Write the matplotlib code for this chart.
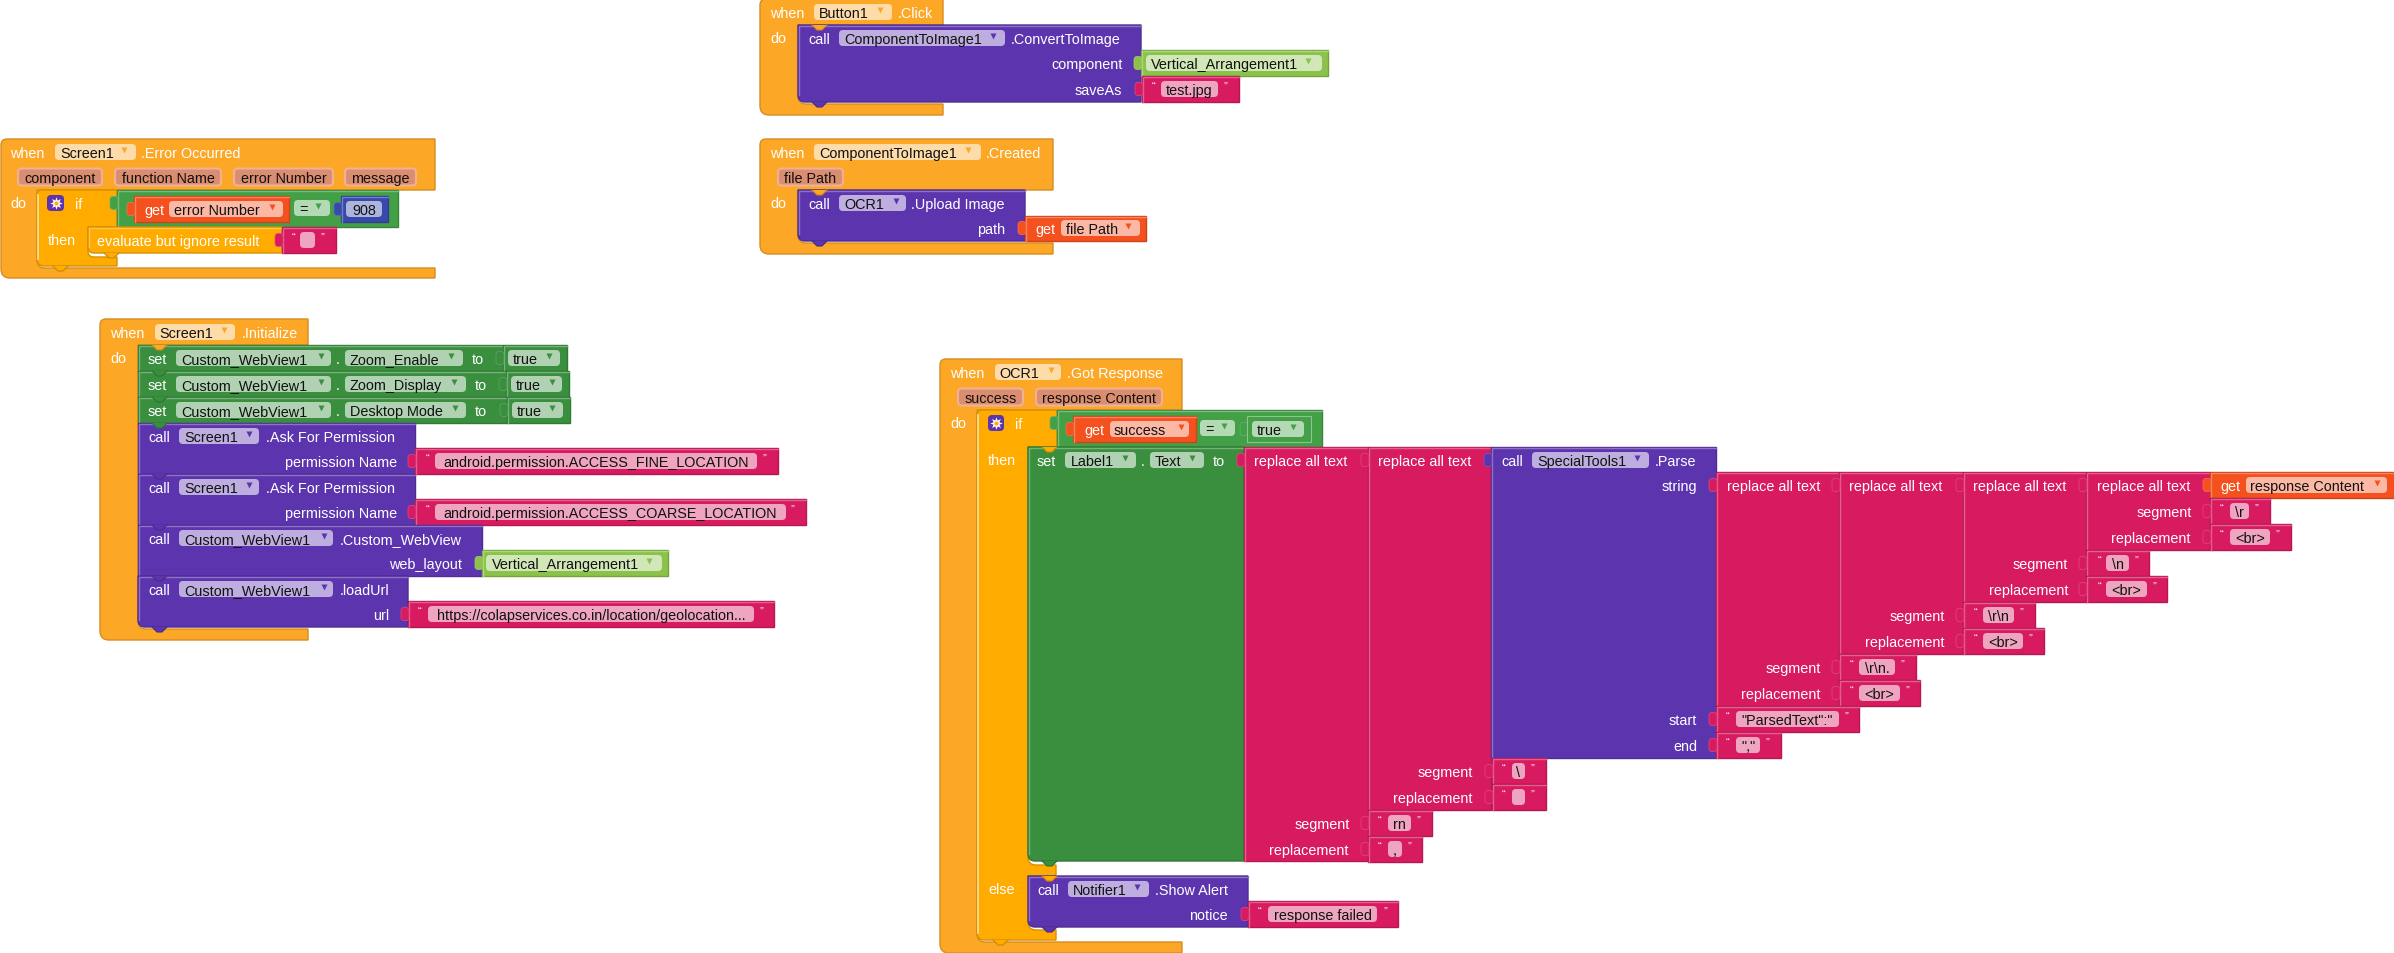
import numpy as np
import matplotlib
matplotlib.use("Agg")
import matplotlib.pyplot as plt
from matplotlib.patches import Rectangle, FancyBboxPatch, PathPatch, Polygon
from matplotlib.path import Path
from matplotlib.colors import to_rgb

# labels of the blocks
EVENT_COMPONENTS = ["Screen1", "Button1", "ComponentToImage1", "Screen1", "OCR1"]
EVENT_NAMES = [".Error Occurred", ".Click", ".Created", ".Initialize", ".Got Response"]
ERROR_ARGS = ["component", "function Name", "error Number", "message"]
CREATED_ARGS = ["file Path"]
RESPONSE_ARGS = ["success", "response Content"]
SET_PROPS = ["Zoom_Enable", "Zoom_Display", "Desktop Mode"]
PERMISSIONS = ["android.permission.ACCESS_FINE_LOCATION", "android.permission.ACCESS_COARSE_LOCATION"]
URL = "https://colapservices.co.in/location/geolocation..."
WEBVIEW = "Custom_WebView1"
ARRANGEMENT = "Vertical_Arrangement1"
REPLACE_LABEL = "replace all text"
SEGMENTS_INNER = ["\\r", "\\n", "\\r\\n", "\\r\\n."]
BR = "<br>"

ORANGE = "#FDA727"
YELLOW = "#FFAB00"
PURPLE = "#5C35AE"
GREEN = "#3A8F3F"
LOGIC = "#43A047"
PINK = "#D81B60"
GET = "#F4511E"
BLUE = "#3949AB"
LIME = "#8BC34A"
FONT = "Liberation Sans"
SIZE = 10.4

fig = plt.figure(figsize=(23.94, 9.54), dpi=100)
ax = fig.add_axes([0, 0, 1, 1])
ax.set_xlim(0, 2394)
ax.set_ylim(954, 0)
ax.axis("off")


def mix(col, other, t):
    a = np.array(to_rgb(col))
    b = np.array(to_rgb(other))
    return tuple(a * (1 - t) + b * t)


def shape(pts, col, radii=None):
    # polygon with some rounded corners
    radii = radii or {}
    verts, codes = [], []
    n = len(pts)
    for i, p in enumerate(pts):
        p = np.array(p, float)
        r = radii.get(i, 0)
        if r:
            a = np.array(pts[i - 1], float)
            b = np.array(pts[(i + 1) % n], float)
            s = p + (a - p) / np.linalg.norm(a - p) * r
            e = p + (b - p) / np.linalg.norm(b - p) * r
            verts += [s, p, e]
            codes += [Path.MOVETO if i == 0 else Path.LINETO, Path.CURVE3, Path.CURVE3]
        else:
            verts.append(p)
            codes.append(Path.MOVETO if i == 0 else Path.LINETO)
    verts.append(verts[0])
    codes.append(Path.CLOSEPOLY)
    ax.add_patch(PathPatch(Path(verts, codes), facecolor=col, edgecolor=mix(col, "black", 0.16), lw=1))


def block(x0, y0, x1, y1, col, bl=0):
    if bl:
        shape([(x0, y0), (x1, y0), (x1, y1), (x0, y1)], col, {3: bl})
    else:
        ax.add_patch(Rectangle((x0, y0), x1 - x0, y1 - y0, facecolor=col, edgecolor=mix(col, "black", 0.16), lw=1))
    light = mix(col, "white", 0.3)
    ax.plot([x0 + 0.5, x0 + 0.5, x1], [y1 - bl, y0 + 0.5, y0 + 0.5], color=light, lw=1, zorder=1)


def tab(x, yc, col):
    # puzzle socket sticking out on the left side
    ax.add_patch(FancyBboxPatch((x - 7, yc - 6.5), 8, 13, boxstyle="round,pad=0,rounding_size=3",
                                facecolor=col, edgecolor=mix(col, "white", 0.2), lw=0.5))


def notch(x, y, col):
    # little bump under a statement block
    xs = [x, x + 5, x + 10, x + 15]
    ys = [y, y + 5, y + 5, y]
    ax.add_patch(Polygon(list(zip(xs, ys)), facecolor=col, edgecolor="none"))
    ax.plot(xs, ys, color=mix(col, "black", 0.2), lw=0.8, zorder=1)


def txt(x, yc, s, col="white", ha="left"):
    ax.text(x, yc + 5, s, color=col, ha=ha, va="baseline", family=FONT, fontsize=SIZE)


def pill(x0, x1, yc, col, h=16, edge=None):
    ax.add_patch(FancyBboxPatch((x0, yc - h / 2), x1 - x0, h, boxstyle="round,pad=0,rounding_size=4",
                                facecolor=col, edgecolor=edge or "none", lw=1.5 if edge else 0))


def drop(x0, x1, yc, label, col, tx, tri):
    # dropdown field with small triangle
    pill(x0, x1, yc, mix(col, "white", 0.6))
    txt(tx, yc, label, "#111111")
    ax.plot([tri], [yc - 2], marker="v", ms=5, color=col, mec="none", zorder=3)


def arg(x0, x1, yc, label):
    pill(x0, x1, yc, "#DB8D70", h=17, edge="#F0B296")
    txt((x0 + x1) / 2, yc, label, "#111111", "center")


def string(x0, x1, y0, label, p0, p1, lq, rq):
    yc = y0 + 13
    block(x0, y0, x1, y0 + 26, PINK)
    tab(x0, yc, PINK)
    pill(p0, p1, yc, "#EFA5BF")
    txt((p0 + p1) / 2, yc, label, "#111111", "center")
    ax.text(lq, yc - 3, "\u201c", color="white", ha="center", va="center", family=FONT, fontsize=8)
    ax.text(rq, yc - 3, "\u201d", color="white", ha="center", va="center", family=FONT, fontsize=8)


def event(x0, x1, y0, y1, y2, y3, arm):
    shape([(x0, y0), (x1, y0), (x1, y1), (arm, y1), (arm, y2), (x1, y2), (x1, y3), (x0, y3)], ORANGE,
          {0: 6, 4: 8, 7: 9})


def gear(x0, x1, yc):
    pill(x0, x1, yc, PURPLE)
    cx = (x0 + x1) / 2
    ax.plot([cx], [yc], marker=(8, 1, 0), ms=9, color="white", mec="none", zorder=3)
    ax.plot([cx], [yc], marker="o", ms=3, color=YELLOW, mec="none", zorder=3)


def compare(x0, x1, y0, y1):
    block(x0, y0, x1, y1, LOGIC)
    tab(x0, y0 + 13, LOGIC)


def edge_light(x, y0, y1):
    # pale left edge of the if blocks
    ax.plot([x + 0.5, x + 0.5], [y0 + 5, y1 - 7], color="#FFE0A0", lw=1.2, zorder=1)


# error occurred
event(1, 435, 140, 191, 269, 279, 37)
txt(10, 153, "when")
drop(55, 136, 153, EVENT_COMPONENTS[0], ORANGE, 60, 124)
txt(141, 153, EVENT_NAMES[0])
for a, x0, x1 in zip(ERROR_ARGS, [18, 115, 234, 345], [102, 221, 333, 416]):
    arg(x0, x1, 178, a)
txt(10, 203, "do")
shape([(37, 191), (117, 191), (117, 228), (88, 228), (88, 258), (117, 258), (117, 267), (37, 267)], YELLOW,
      {0: 5, 4: 6, 7: 7})
edge_light(37, 191, 267)
notch(53, 267, YELLOW)
gear(47, 64, 204)
txt(75, 204, "if")
txt(48, 240, "then")
compare(117, 398, 191, 228)
block(134, 197, 289, 223, GET)
tab(134, 210, GET)
txt(144, 210, "get")
drop(169, 283, 210, ERROR_ARGS[2], GET, 174, 272)
drop(294, 330, 209, "=", LOGIC, 299, 318)
block(341, 197, 388, 223, BLUE)
tab(341, 210, BLUE)
pill(346, 382, 210, "#AEB5DD")
txt(364, 210, "908", "#111111", "center")
block(88, 228, 282, 254, YELLOW, bl=6)
notch(104, 254, YELLOW)
txt(97, 241, "evaluate but ignore result")
string(282, 336, 228, "", 300, 315, 293, 322)

# button click
event(760, 943, 0, 26, 105, 116, 798)
txt(770, 13, "when")
drop(814, 892, 13, EVENT_COMPONENTS[1], ORANGE, 819, 880)
txt(898, 13, EVENT_NAMES[1])
txt(770, 38, "do")
block(798, 26, 1141, 103, PURPLE, bl=7)
notch(812, 103, PURPLE)
notch(812, 26, ORANGE)
txt(808, 39, "call")
drop(839, 1005, 39, EVENT_COMPONENTS[2], PURPLE, 844, 993)
txt(1011, 39, ".ConvertToImage")
txt(1123, 64, "component", ha="right")
txt(1122, 90, "saveAs", ha="right")
block(1141, 51, 1328, 77, LIME)
tab(1141, 64, LIME)
drop(1146, 1322, 64, ARRANGEMENT, LIME, 1151, 1308)
string(1142, 1239, 77, "test.jpg", 1161, 1218, 1153, 1225)

# image created
event(760, 1053, 140, 191, 244, 255, 798)
txt(770, 153, "when")
drop(814, 981, 153, EVENT_COMPONENTS[2], ORANGE, 819, 968)
txt(986, 153, EVENT_NAMES[2])
arg(778, 843, 178, CREATED_ARGS[0])
txt(770, 203, "do")
block(798, 191, 1025, 242, PURPLE, bl=7)
notch(812, 242, PURPLE)
notch(812, 191, ORANGE)
txt(808, 204, "call")
drop(839, 906, 204, EVENT_COMPONENTS[4], PURPLE, 844, 896)
txt(911, 204, ".Upload Image")
txt(1005, 229, "path", ha="right")
block(1025, 217, 1146, 242, GET)
tab(1025, 229, GET)
txt(1035, 229, "get")
drop(1061, 1140, 229, CREATED_ARGS[0], GET, 1066, 1128)

# screen initialize
event(100, 308, 320, 346, 630, 641, 138)
txt(110, 333, "when")
drop(155, 235, 333, EVENT_COMPONENTS[3], ORANGE, 159, 224)
txt(242, 333, EVENT_NAMES[3])
txt(110, 358, "do")
rows = zip(SET_PROPS, [346, 372, 398], [503, 506, 507], [567, 569, 570], [463, 466, 466], [451, 454, 455],
           [478, 481, 481], [508, 511, 512], [560, 562, 563], [549, 552, 552])
for prop, y0, xs, xe, pe, pt, to_x, t0, t1, tt in rows:
    yc = y0 + 13
    block(138, y0, xs, y0 + 26, GREEN)
    notch(152, y0, ORANGE if y0 == 346 else GREEN)
    txt(148, yc, "set")
    drop(176, 331, yc, WEBVIEW, GREEN, 181, 321)
    txt(336, yc, ".")
    drop(345, pe, yc, prop, GREEN, 350, pt)
    txt(to_x, yc, "to", ha="center")
    block(xs, y0, xe, y0 + 26, GREEN)
    tab(xs, yc, GREEN)
    drop(t0, t1, yc, "true", GREEN, t0 + 5, tt)

for y0, col in zip([424, 475], [GREEN, PURPLE]):
    block(138, y0, 415, y0 + 51, PURPLE)
    notch(152, y0, col)
    txt(148, y0 + 13, "call")
    drop(179, 259, y0 + 13, EVENT_COMPONENTS[0], PURPLE, 184, 249)
    txt(266, y0 + 13, ".Ask For Permission")
    txt(397, y0 + 38, "permission Name", ha="right")
string(415, 778, 449, PERMISSIONS[0], 435, 757, 427, 764)
string(415, 806, 500, PERMISSIONS[1], 435, 786, 427, 792)
block(138, 526, 482, 577, PURPLE)
notch(152, 526, PURPLE)
txt(148, 539, "call")
drop(179, 333, 539, WEBVIEW, PURPLE, 184, 324)
txt(340, 539, ".Custom_WebView")
txt(462, 564, "web_layout", ha="right")
block(482, 551, 668, 577, LIME)
tab(482, 564, LIME)
drop(486, 662, 564, ARRANGEMENT, LIME, 492, 649)
block(138, 577, 408, 628, PURPLE, bl=7)
notch(152, 577, PURPLE)
notch(152, 628, PURPLE)
txt(148, 590, "call")
drop(179, 333, 590, WEBVIEW, PURPLE, 184, 324)
txt(340, 590, ".loadUrl")
txt(389, 615, "url", ha="right")
string(408, 774, 602, URL, 428, 754, 420, 761)

# got response
event(940, 1182, 360, 411, 943, 954, 977)
txt(950, 373, "when")
drop(995, 1061, 373, EVENT_COMPONENTS[4], ORANGE, 999, 1051)
txt(1067, 373, EVENT_NAMES[4])
arg(958, 1023, 398, RESPONSE_ARGS[0])
arg(1036, 1162, 398, RESPONSE_ARGS[1])
txt(950, 423, "do")
shape([(977, 411), (1057, 411), (1057, 448), (1028, 448), (1028, 866), (1056, 866), (1056, 877), (1028, 877),
       (1028, 931), (1056, 931), (1056, 941), (977, 941)], YELLOW, {0: 5, 4: 8, 8: 8, 11: 7})
edge_light(977, 411, 941)
notch(993, 941, YELLOW)
gear(988, 1004, 424)
txt(1015, 424, "if")
txt(988, 460, "then")
txt(988, 889, "else")
compare(1057, 1322, 411, 448)
block(1073, 417, 1196, 443, GET)
tab(1073, 430, GET)
txt(1084, 430, "get")
drop(1110, 1189, 430, RESPONSE_ARGS[0], GET, 1114, 1181)
drop(1200, 1235, 429, "=", LOGIC, 1205, 1224)
tab(1247, 430, LOGIC)
ax.add_patch(Rectangle((1247, 417), 64, 26, facecolor=LOGIC, edgecolor="#8CC48F", lw=0.8))
drop(1252, 1304, 430, "true", LOGIC, 1257, 1293)

block(1028, 448, 1244, 862, GREEN, bl=7)
notch(1042, 862, GREEN)
notch(1042, 448, YELLOW)
txt(1037, 461, "set")
drop(1065, 1136, 461, "Label1", GREEN, 1071, 1125)
txt(1141, 461, ".")
drop(1150, 1204, 461, "Text", GREEN, 1155, 1192)
txt(1213, 461, "to")

block(1244, 448, 1368, 862, PINK)
tab(1244, 461, PINK)
txt(1254, 461, REPLACE_LABEL)
block(1368, 448, 1491, 811, PINK)
tab(1368, 461, PINK)
txt(1378, 461, REPLACE_LABEL)
block(1491, 448, 1716, 759, PURPLE)
tab(1491, 461, PURPLE)
txt(1501, 461, "call")
drop(1532, 1649, 461, "SpecialTools1", PURPLE, 1537, 1637)
txt(1655, 461, ".Parse")
txt(1697, 486, "string", ha="right")
txt(1697, 720, "start", ha="right")
txt(1697, 746, "end", ha="right")

# nested replace blocks, outermost first
nest = [(1716, 1839, 473, 707, 1727), (1839, 1963, 473, 655, 1849), (1963, 2086, 473, 603, 1973),
        (2086, 2210, 473, 551, 2097)]
for x0, x1, y0, y1, tx in nest:
    block(x0, y0, x1, y1, PINK)
    tab(x0, y0 + 13, PINK)
    txt(tx, y0 + 13, REPLACE_LABEL)

block(2210, 473, 2394, 499, GET)
tab(2210, 486, GET)
txt(2220, 486, "get")
drop(2246, 2387, 486, RESPONSE_ARGS[1], GET, 2250, 2377)

txt(2192, 512, "segment", ha="right")
txt(2191, 538, "replacement", ha="right")
string(2210, 2270, 499, SEGMENTS_INNER[0], 2230, 2249, 2222, 2256)
string(2210, 2291, 525, BR, 2230, 2270, 2222, 2277)
txt(2068, 564, "segment", ha="right")
txt(2068, 590, "replacement", ha="right")
string(2086, 2149, 551, SEGMENTS_INNER[1], 2106, 2129, 2099, 2136)
string(2086, 2167, 577, BR, 2106, 2147, 2099, 2154)
txt(1945, 616, "segment", ha="right")
txt(1944, 642, "replacement", ha="right")
string(1963, 2035, 603, SEGMENTS_INNER[2], 1983, 2014, 1975, 2021)
string(1963, 2044, 629, BR, 1983, 2023, 1975, 2030)
txt(1821, 668, "segment", ha="right")
txt(1821, 694, "replacement", ha="right")
string(1839, 1916, 655, SEGMENTS_INNER[3], 1859, 1895, 1851, 1902)
string(1839, 1920, 681, BR, 1859, 1900, 1851, 1907)
string(1716, 1859, 707, '"ParsedText":"', 1736, 1839, 1728, 1846)
string(1716, 1781, 733, '","', 1736, 1760, 1728, 1767)

txt(1473, 772, "segment", ha="right")
txt(1473, 798, "replacement", ha="right")
string(1492, 1546, 759, "\\", 1512, 1525, 1503, 1532)
string(1492, 1546, 785, "", 1512, 1525, 1503, 1532)
txt(1350, 824, "segment", ha="right")
txt(1349, 850, "replacement", ha="right")
string(1368, 1432, 811, "rn", 1388, 1411, 1380, 1418)
string(1368, 1422, 837, ",", 1388, 1402, 1380, 1409)

block(1028, 877, 1248, 928, PURPLE, bl=7)
notch(1042, 928, PURPLE)
notch(1042, 877, YELLOW)
txt(1037, 890, "call")
drop(1068, 1149, 890, "Notifier1", PURPLE, 1073, 1137)
txt(1155, 890, ".Show Alert")
txt(1228, 915, "notice", ha="right")
string(1248, 1398, 902, "response failed", 1268, 1377, 1260, 1385)

fig.savefig("out.png", dpi=100, facecolor="white")
